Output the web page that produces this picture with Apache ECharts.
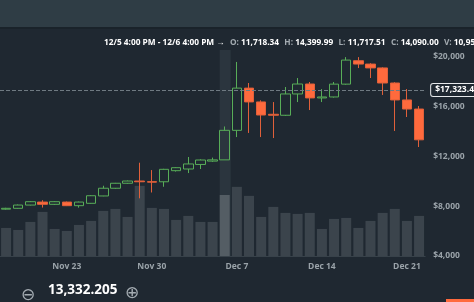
<!DOCTYPE html>
<html><head><meta charset="utf-8">
<script src="https://cdn.jsdelivr.net/npm/echarts@6/dist/echarts.min.js"></script>
<style>html,body{margin:0;padding:0;background:#1f2831;}#c{width:474px;height:302px;}</style>
</head><body><div id="c"></div>
<script>
const categories = ['Nov 18','Nov 19','Nov 20','Nov 21','Nov 22','Nov 23','Nov 24','Nov 25','Nov 26','Nov 27','Nov 28','Nov 29','Nov 30',
  'Dec 1','Dec 2','Dec 3','Dec 4','Dec 5','Dec 6','Dec 7','Dec 8','Dec 9','Dec 10','Dec 11','Dec 12','Dec 13','Dec 14','Dec 15','Dec 16','Dec 17','Dec 18','Dec 19','Dec 20','Dec 21','Dec 22'];
const opens  = [7760,7830,8090,8330,8150,8330,8040,8230,8820,9440,9840,10020,9970,9960,10850,10985,11350,11620,11718.34,14090,17480,16370,15380,15300,17010,17810,16690,16770,17800,19680,19410,19100,17890,16530,15800];
const closes = [7830,8090,8360,8150,8360,8040,8330,8840,9440,9840,10020,9960,9930,10960,11090,11390,11707,11718,14090.00,17480,16370,15320,15300,17010,17810,16690,16770,17800,19730,19410,19100,17890,16530,15800,13330];
const lows   = [7720,7800,8060,7890,8100,8010,7880,8200,8800,9400,9800,8630,9100,9560,10780,10660,10985,11560,11717.51,13550,13880,13550,13470,15250,16360,15720,16360,16720,17750,19090,18290,16930,14040,15160,12750];
const highs  = [7870,8130,8400,8480,8400,8370,8370,8880,9640,9870,10060,11490,10900,11000,11130,11950,11760,11900,14399.99,19580,17890,16500,16360,17570,18290,17970,17400,17970,19970,19970,19480,19150,17950,17400,16040];
const volumes= [5040,4680,6120,7920,4860,4500,5580,6300,8100,8460,7020,12600,8640,8460,6480,7200,6120,6120,10958,12420,10800,7020,8820,7740,7560,7740,4860,6660,6840,5040,6300,7740,8460,6300,7200];
const xTickLabels = ['Nov 23','Nov 30','Dec 7','Dec 14','Dec 21'];
const priceTicks = [4000,8000,12000,16000,20000];
const hoverIndex = 18;
const hoverRange = '12/5 4:00 PM - 12/6 4:00 PM';
const crossPrice = 17323.42;
const lastPrice = 13332.205;

const fmt2 = v => v.toLocaleString('en-US',{minimumFractionDigits:2,maximumFractionDigits:2});
const FONT = 'Open Sans';
const chart = echarts.init(document.getElementById('c'), null, {renderer:'canvas'});

const header = `{d|${hoverRange} \u2192} {s|} {k|O:} {v|${fmt2(opens[hoverIndex])}} {s|} {k|H:} {v|${fmt2(highs[hoverIndex])}} {s|} {k|L:} {v|${fmt2(lows[hoverIndex])}} {s|} {k|C:} {v|${fmt2(closes[hoverIndex])}} {s|} {k|V:} {v|${fmt2(volumes[hoverIndex])}}`;

const ohlc = categories.map((c,i)=>[opens[i],closes[i],lows[i],highs[i]]);
const volMax = 37000;
const band = categories.map((c,i)=> i===hoverIndex ? volMax : null);

chart.setOption({
  backgroundColor:'#1f2831',
  animation:false,
  textStyle:{fontFamily:FONT},
  graphic:[
    {type:'rect', left:0, top:0, shape:{width:474,height:27}, style:{fill:'#2f3d45'}},
    {type:'rect', left:0, top:27, shape:{width:474,height:2}, style:{fill:'#1a232a'}},
    {type:'text', left:21, top:287, style:{text:'\u2296', fill:'#a3abb1', font:'17px DejaVu Sans'}},
    {type:'text', left:125, top:285, style:{text:'\u2295', fill:'#a3abb1', font:'17px DejaVu Sans'}},
    {type:'text', left:48, top:283, style:{text:lastPrice.toLocaleString('en-US',{minimumFractionDigits:3}), fill:'#ffffff', font:'bold 13.5px "Open Sans"'}},
    {type:'rect', left:446, top:299, shape:{width:28,height:3}, style:{fill:'#ff6a3d'}}
  ],
  title:{
    text: header, left:99, top:34,
    textStyle:{
      fontSize:8.3,
      rich:{
        d:{color:'#ffffff', fontWeight:'bold', fontSize:8.3, fontFamily:FONT},
        k:{color:'#a3abb1', fontSize:8.3, fontFamily:FONT},
        v:{color:'#ffffff', fontWeight:'bold', fontSize:8.3, fontFamily:FONT},
        s:{width:1}
      }
    }
  },
  grid:{left:-5.75, right:48.85, top:50, bottom:46},
  xAxis:{
    type:'category', data:categories, boundaryGap:true,
    axisLine:{show:true, lineStyle:{color:'#38424a'}},
    axisTick:{show:true, alignWithLabel:true, length:3, inside:true, lineStyle:{color:'#4a545c'}, interval:(i,v)=>xTickLabels.includes(v)},
    axisLabel:{color:'#9aa3a9', fontSize:8.5, fontWeight:'bold', fontFamily:FONT, margin:6, interval:(i,v)=>xTickLabels.includes(v)},
    splitLine:{show:false}
  },
  yAxis:[
    {type:'value', position:'right', min:priceTicks[0], max:20540, interval:priceTicks[1]-priceTicks[0],
     axisLine:{show:false}, axisTick:{show:false}, splitLine:{show:false},
     axisLabel:{color:'#9aa3a9', fontSize:8.5, fontWeight:'bold', fontFamily:FONT, margin:8, showMaxLabel:false,
       formatter:v=> priceTicks.includes(v) ? '$'+v.toLocaleString('en-US') : ''}},
    {type:'value', min:0, max:volMax, show:false, splitLine:{show:false}}
  ],
  series:[
    {type:'bar', name:'hover', data:band, yAxisIndex:1, barWidth:11, barGap:'-100%', itemStyle:{color:'#2b353e'}, z:1, silent:true},
    {type:'bar', name:'Volume', yAxisIndex:1, barWidth:10, barGap:'-100%',
     data: volumes.map((v,i)=> i===hoverIndex ? {value:v, itemStyle:{color:'#545d64'}} : v),
     itemStyle:{color:'#3b444c'}, z:2},
    {type:'candlestick', name:'Price', data:ohlc, barWidth:10, z:3,
     itemStyle:{color:'rgba(0,0,0,0)', color0:'#ff6a3d', borderColor:'#58ad58', borderColor0:'#e0603a', borderWidth:1},
     markLine:{symbol:'none', silent:true,
       lineStyle:{color:'#6f7a82', type:'dashed', width:1},
       label:{position:'end', distance:6, formatter:'$'+fmt2(crossPrice), color:'#ffffff', fontWeight:'bold', fontSize:8.5, fontFamily:FONT,
         backgroundColor:'#1f2831', borderColor:'#e6e9eb', borderWidth:1, borderRadius:2, padding:[2,3,1,4]},
       data:[{yAxis:crossPrice}]}
    }
  ]
});
</script></body></html>
